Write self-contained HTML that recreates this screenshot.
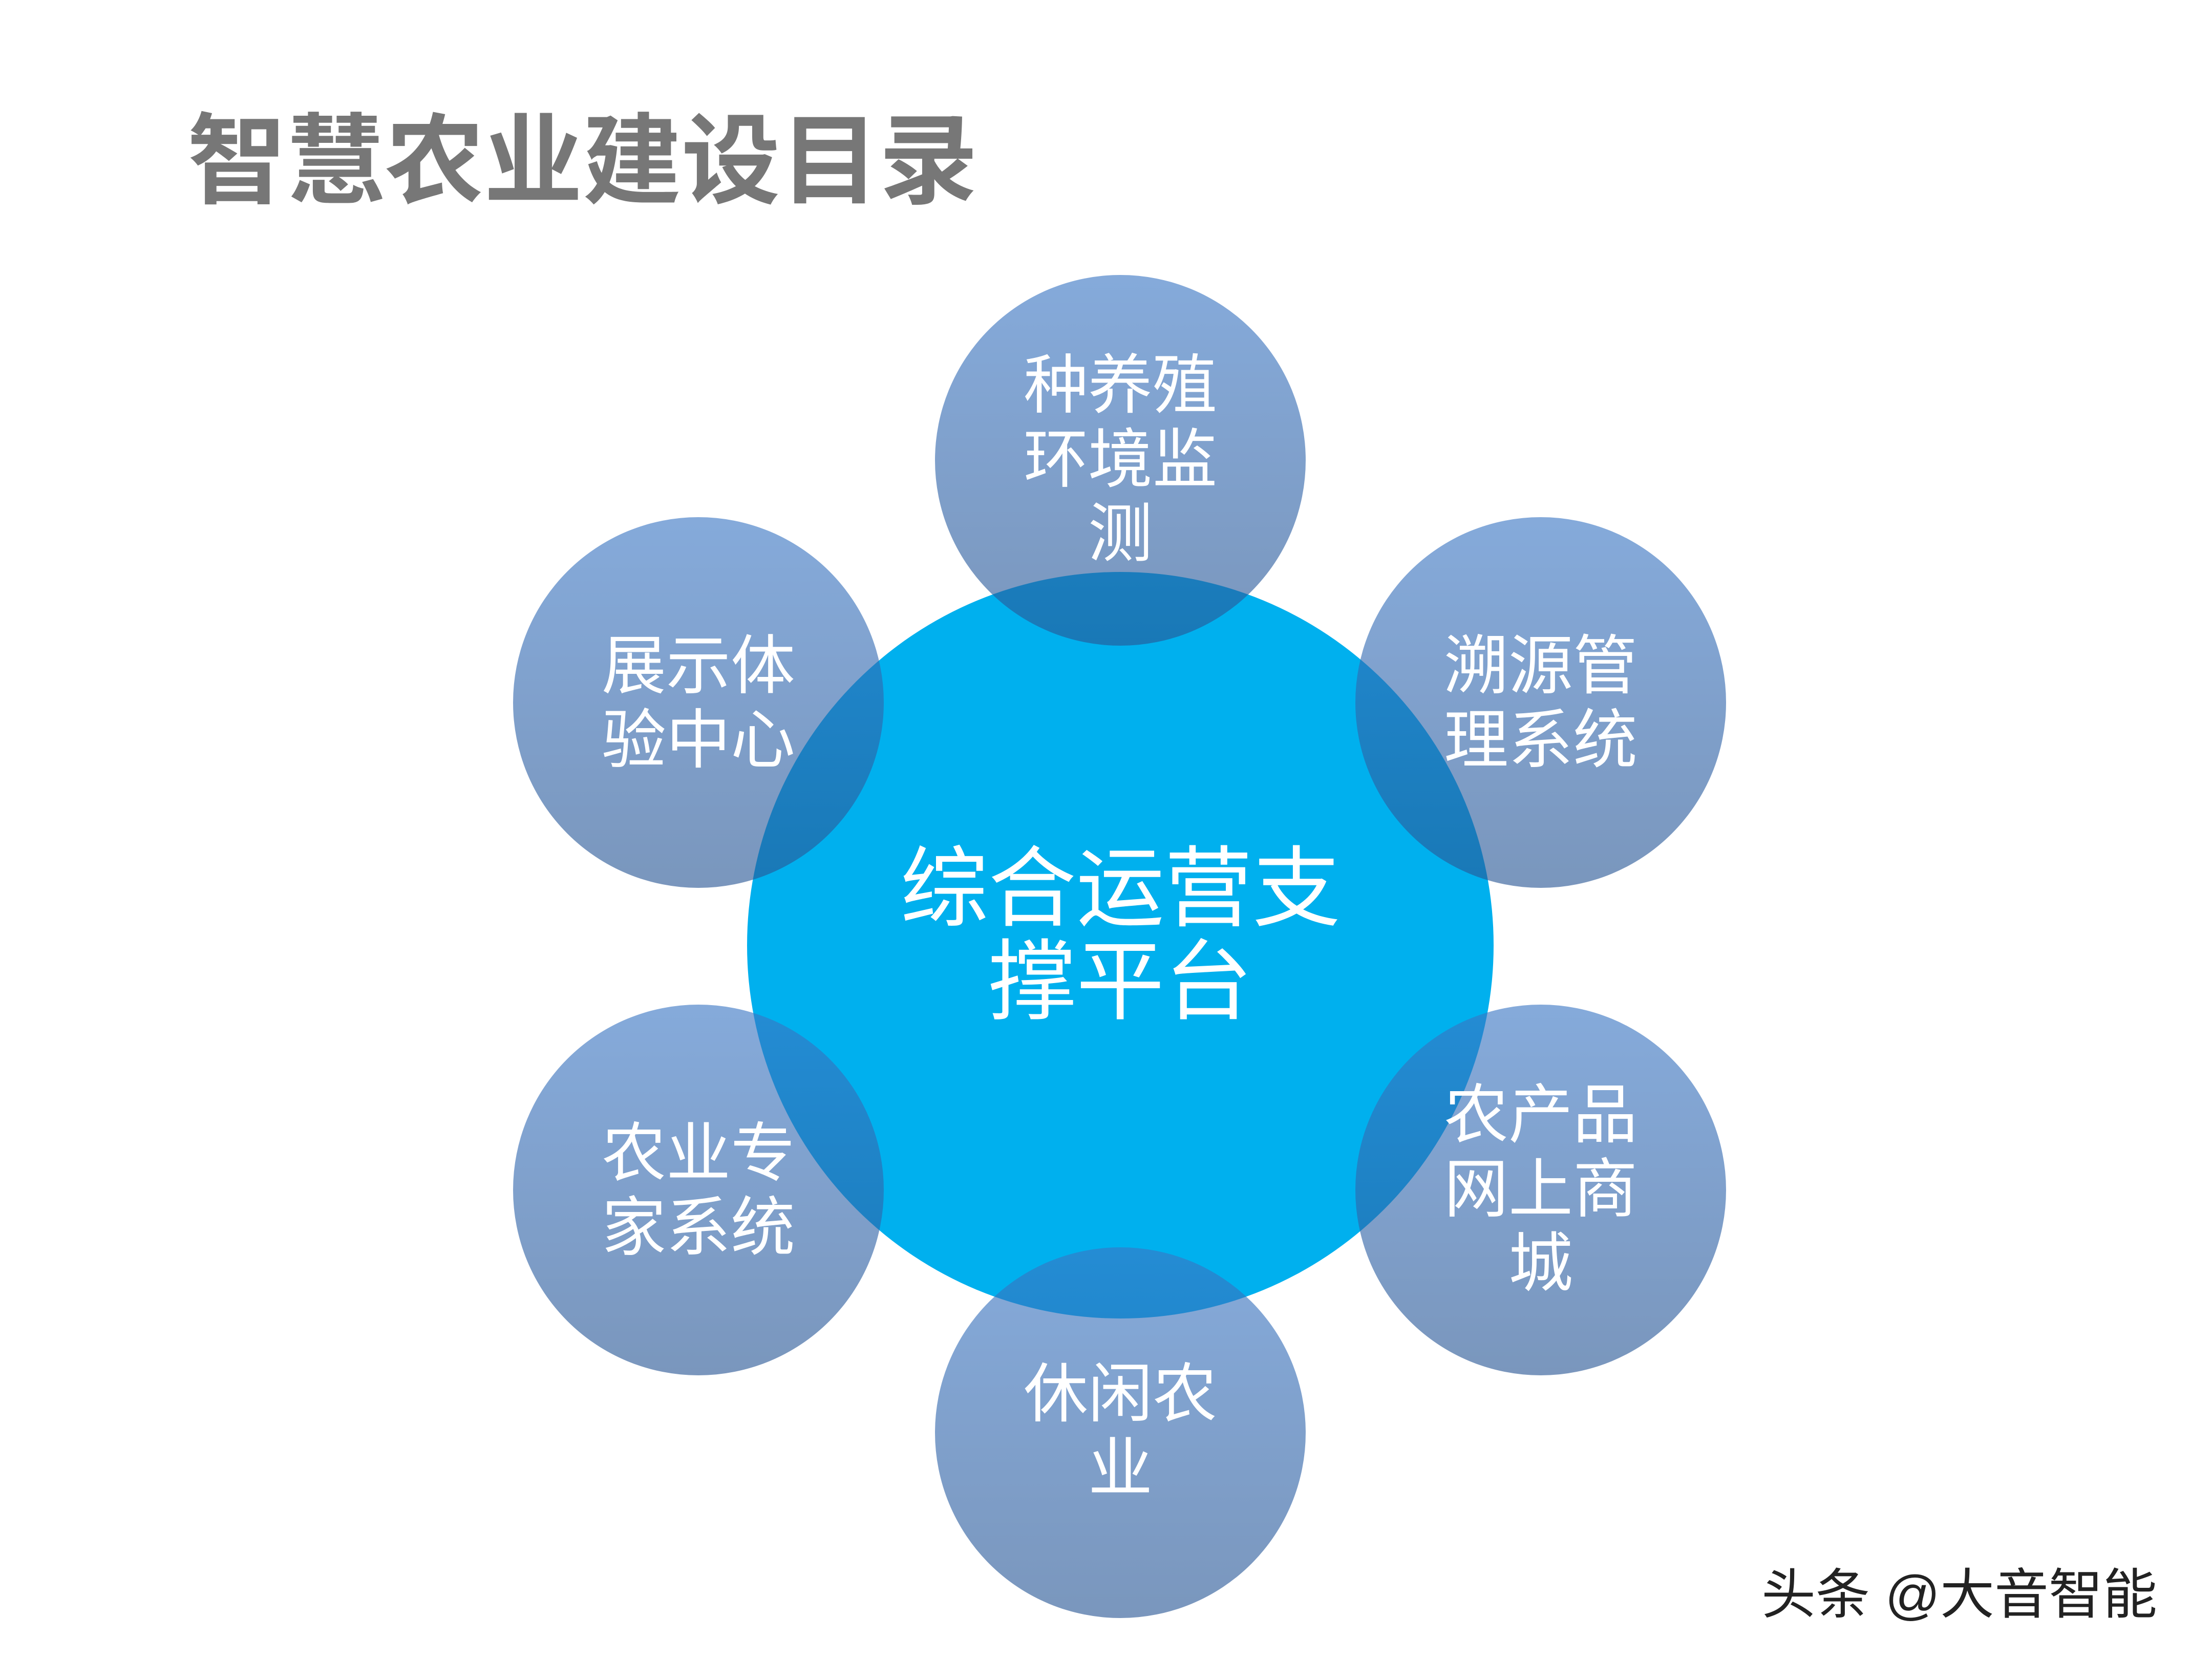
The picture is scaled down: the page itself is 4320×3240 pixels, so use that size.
<!DOCTYPE html>
<html><head><meta charset="utf-8"><style>
html,body{margin:0;padding:0;background:#fff}
body{width:4320px;height:3240px;position:relative;overflow:hidden;font-family:"Liberation Sans","Noto Sans CJK SC",sans-serif}
.t{position:absolute;color:#fff;text-align:center;font-size:126px;line-height:145px;width:600px}
</style></head><body>
<div style="position:absolute;left:366px;top:178px;font-size:193px;font-weight:bold;color:#777;line-height:240px;white-space:nowrap;font-family:'Noto Sans CJK SC',sans-serif">智慧农业建设目录</div>
<svg width="4320" height="3240" style="position:absolute;left:0;top:0">
<defs>
<linearGradient id="g" x1="0" y1="0" x2="0" y2="1">
<stop offset="0" stop-color="rgb(58,118,196)"/>
<stop offset="1" stop-color="rgb(40,86,148)"/>
</linearGradient>
</defs>
<circle cx="2188" cy="1846" r="729" fill="#00b0ee"/>
<g fill="url(#g)" fill-opacity="0.62">
<circle cx="2188" cy="899" r="362"/>
<circle cx="1364" cy="1372" r="362"/>
<circle cx="3009" cy="1372" r="362"/>
<circle cx="1364" cy="2324" r="362"/>
<circle cx="3009" cy="2324" r="362"/>
<circle cx="2188" cy="2798" r="362"/>
</g>
</svg>
<div class="t" style="left:1888px;top:680px">种养殖<br>环境监<br>测</div>
<div class="t" style="left:1064px;top:1228px">展示体<br>验中心</div>
<div class="t" style="left:2709px;top:1228px">溯源管<br>理系统</div>
<div class="t" style="left:1064px;top:2180px">农业专<br>家系统</div>
<div class="t" style="left:2709px;top:2105px">农产品<br>网上商<br>城</div>
<div class="t" style="left:1888px;top:2650px">休闲农<br>业</div>
<div class="t" style="left:1688px;top:1645px;width:1000px;font-size:172px;line-height:182px">综合运营支<br>撑平台</div>
<div style="position:absolute;left:3440px;top:3050px;font-size:106px;color:#222;white-space:nowrap;line-height:130px">头条 @大音智能</div>
</body></html>
